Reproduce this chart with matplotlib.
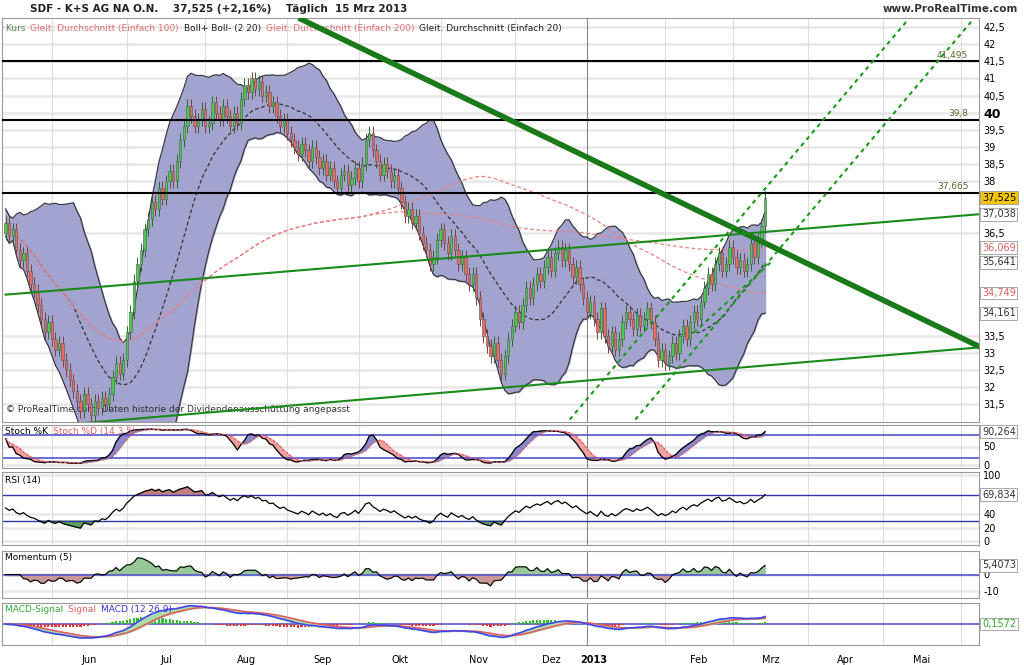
import numpy as np
import pandas as pd
import matplotlib
matplotlib.use("Agg")
import matplotlib.pyplot as plt

closes = [36.8, 36.4, 36.6, 36.0, 35.7, 35.9, 35.4, 35.0, 34.8, 34.4,
          34.0, 33.6, 33.9, 33.4, 33.1, 33.3, 32.8, 32.5, 32.2, 31.9,
          31.6, 31.3, 31.8, 31.5, 31.2, 31.6, 31.4, 31.7, 31.5, 31.8,
          32.3, 32.7, 32.4, 32.8, 33.6, 34.2, 35.1, 35.6, 36.0, 36.6,
          36.9, 37.4, 37.2, 37.8, 37.5, 38.0, 38.3, 38.0, 38.6, 39.2,
          39.6, 40.2, 39.9, 39.6, 39.8, 40.1, 39.6, 39.7, 40.3, 40.0,
          39.8, 40.2, 39.9, 39.6, 40.0, 39.7, 40.4, 40.8, 40.6, 41.0,
          40.7, 40.9, 40.5, 40.6, 40.2, 40.3, 39.9, 39.6, 39.8, 39.4,
          39.2, 39.0, 38.8, 39.1, 38.9, 38.6, 39.0, 38.7, 38.4, 38.6,
          38.2, 38.4, 38.0, 37.8, 38.2, 38.3, 37.9, 38.1, 38.4, 38.0,
          38.5, 39.2, 39.4, 38.9, 38.6, 38.2, 38.5, 38.3, 38.0, 38.2,
          37.8, 37.4, 37.0, 37.2, 36.8, 37.0, 36.5, 36.2, 36.0, 35.6,
          35.8, 36.3, 36.6, 36.2, 35.9, 36.4, 36.0, 35.6, 35.8, 35.3,
          35.0, 35.3, 34.6, 34.0, 33.5, 33.2, 32.9, 33.3, 32.8, 32.4,
          32.9, 33.4, 33.8, 34.2, 33.9, 34.4, 34.9, 34.6, 35.0, 35.3,
          35.1, 35.5, 35.8, 35.4, 35.9, 36.1, 35.7, 36.0, 35.6, 35.2,
          35.5, 35.0, 34.6, 34.2, 34.5, 34.0, 33.6, 34.3, 33.5, 33.2,
          33.6, 33.1, 33.4, 33.9, 34.2, 34.0, 33.7, 34.1, 33.8, 34.0,
          34.3, 33.9, 33.4, 32.8, 33.1, 32.7, 32.9, 33.3, 33.0, 33.5,
          33.8, 33.4, 33.9, 34.2, 34.0, 34.5, 34.9, 35.3, 35.0, 35.6,
          35.9, 35.4, 35.6, 36.1, 35.8, 35.5, 35.7, 35.4, 35.6, 36.2,
          35.8, 36.3, 36.7, 37.525]
first_open = 36.5
month_labels = ["Jun", "Jul", "Aug", "Sep", "Okt", "Nov", "Dez", "2013", "Feb", "Mrz", "Apr", "Mai", "Jun"]
month_starts = [13, 34, 56, 79, 99, 122, 143, 163, 185, 204, 225, 246, 268, 290]
hlines = [41.495, 39.8, 37.665]
thick_line = [(82.2, 42.76), (285.2, 32.58)]
upper_line = [(0, 34.70), (272.7, 37.04)]
lower_line = [(20.9, 30.95), (272.7, 33.16)]
dashed_lines = [[(158.2, 31.06), (252.6, 42.65)], [(176.6, 31.06), (270.8, 42.65)], [(193.0, 33.59), (214.5, 35.63)]]

c = pd.Series(closes)
n = len(c)
x = np.arange(n)
o = c.shift(1).fillna(first_open)
wick = 0.2
hi = np.maximum(o, c) + wick
lo = np.minimum(o, c) - wick

sma20 = c.rolling(20, min_periods=1).mean()
sd20 = c.rolling(20, min_periods=2).std(ddof=0).bfill()
bup, bdn = sma20 + 2 * sd20, sma20 - 2 * sd20
sma100 = c.rolling(100, min_periods=1).mean()
sma200 = c.rolling(200, min_periods=1).mean()
hh = pd.Series(hi).rolling(14, min_periods=1).max()
ll = pd.Series(lo).rolling(14, min_periods=1).min()
rawk = 100 * (c - ll) / (hh - ll)
K = rawk.rolling(3, min_periods=1).mean()
D = K.rolling(5, min_periods=1).mean()
d = c.diff().fillna(0).values
au, ad = 0.2, 0.2
rsi_vals = []
for dv in d:
    au = (au * 13 + max(dv, 0)) / 14
    ad = (ad * 13 + max(-dv, 0)) / 14
    rsi_vals.append(100 - 100 / (1 + au / ad))
rsi = pd.Series(rsi_vals)
mom = (100 * (c / c.shift(5) - 1)).fillna(0)
macd = c.ewm(span=12, adjust=False).mean() - c.ewm(span=26, adjust=False).mean()
sig = macd.ewm(span=9, adjust=False).mean()
hist = macd - sig

W, H = 1024, 665
fig = plt.figure(figsize=(W/100, H/100), dpi=100)
fig.patch.set_facecolor("white")
def ax_at(top, bottom, left=2, right=979):
    return fig.add_axes([left/W, 1-bottom/H, (right-left)/W, (bottom-top)/H])

XMAX = 273
def style(ax, ticks, labels=None):
    ax.set_xlim(-1, XMAX)
    ax.yaxis.tick_right()
    ax.set_yticks(ticks)
    ax.set_yticklabels(labels if labels else [("%g" % t).replace(".", ",") for t in ticks], fontsize=7)
    ax.tick_params(axis="y", length=0, pad=3)
    ax.set_xticks([])
    ax.grid(False)
    for t in ticks:
        ax.axhline(t, color="#e8e8e8", lw=1.8, zorder=0)
    for i, m in enumerate(month_starts[:-1]):
        ax.axvline(m, color="#888888" if month_labels[i] == "2013" else "#dddddd", lw=0.8, zorder=0)
    for s in ax.spines.values():
        s.set_color("#999999")

def box(ax, v, t, fc="white", tc="#333333"):
    ax.text(1.003, v, t, transform=ax.get_yaxis_transform(), fontsize=7, color=tc, va="center", ha="left",
            bbox=dict(boxstyle="square,pad=0.15", fc=fc, ec="#999999", lw=0.6), zorder=10, clip_on=False)

# main
ax = ax_at(18, 422)
ylab = [(37.525, "37,525", "#f5c400", "black"), (37.038, "37,038", "white", "#333333"),
        (sma100.iloc[-1], f"{sma100.iloc[-1]:.3f}".replace(".", ","), "white", "#e06060"),
        (sma20.iloc[-1], f"{sma20.iloc[-1]:.3f}".replace(".", ","), "white", "#333333"),
        (sma200.iloc[-1], f"{sma200.iloc[-1]:.3f}".replace(".", ","), "white", "#e06060"),
        (bdn.iloc[-1], f"{bdn.iloc[-1]:.3f}".replace(".", ","), "white", "#333333")]
pticks = [t for t in np.arange(31.5, 42.6, 0.5) if all(abs(t - v[0]) > 0.3 for v in ylab)]
ax.set_ylim(30.99, 42.76)
style(ax, pticks)
for lab in ax.get_yticklabels():
    if lab.get_text() in ("35", "40"):
        lab.set_fontweight("bold"); lab.set_fontsize(9)
ax.fill_between(x, bdn, bup, color="#a3a3cf", zorder=1)
ax.plot(x, bup, color="#333333", lw=0.8, zorder=2)
ax.plot(x, bdn, color="#333333", lw=0.8, zorder=2)
ax.plot(x, sma20, color="#333333", lw=0.9, ls=(0, (3, 2)), zorder=2)
ax.plot(x, sma100, color="#e88080", lw=0.9, ls=(0, (3, 2)), zorder=2)
ax.plot(x, sma200, color="#e88080", lw=0.9, ls=(0, (3, 2)), zorder=2)
for i in range(n):
    bull = c[i] >= o[i]
    ax.vlines(i, lo[i], hi[i], color="#2a6a2a" if bull else "#8a3a3a", lw=0.7, zorder=3)
    ax.bar(i, max(abs(c[i]-o[i]), 0.04), bottom=min(c[i], o[i]), width=0.65,
           color="#44cc44" if bull else "#e86a5a", edgecolor="#555555", lw=0.4, zorder=4)
for h in hlines:
    ax.axhline(h, color="black", lw=1.5, zorder=5)
    ax.text(270, h+0.05, ("%g" % h).replace(".", ","), fontsize=6.5, color="#556b2f", ha="right", va="bottom")
ax.plot(*zip(*thick_line), color="#1a7a1a", lw=4, zorder=6, solid_capstyle="butt")
ax.plot(*zip(*upper_line), color="#1a8a1a", lw=1.5, zorder=6)
ax.plot(*zip(*lower_line), color="#1a8a1a", lw=1.5, zorder=6)
for dl in dashed_lines:
    ax.plot(*zip(*dl), color="#1a9a1a", lw=1.5, ls=(0, (2, 2)), zorder=6)
legend_parts = [("Kurs ", "#558855"), ("Gleit. Durchschnitt (Einfach 100) ", "#e07070"), ("Boll+ Boll- (2 20) ", "#222222"),
                ("Gleit. Durchschnitt (Einfach 200) ", "#e07070"), ("Gleit. Durchschnitt (Einfach 20)", "#222222")]
xx = 0.004
fig.canvas.draw()
for t, col in legend_parts:
    tt = ax.text(xx, 0.985, t, transform=ax.transAxes, fontsize=6.5, color=col, va="top")
    bb = tt.get_window_extent(renderer=fig.canvas.get_renderer()).transformed(ax.transAxes.inverted())
    xx = bb.x1 + 0.002
ax.text(0.004, 0.02, "© ProRealTime.com  Daten historie der Dividendenausschüttung angepasst", transform=ax.transAxes,
        fontsize=6.5, color="#333333", va="bottom")
for v, t, fc, tc in ylab:
    box(ax, v, t, fc, tc)

fig.text(30/W, 1-9/H, "SDF - K+S AG NA O.N.    37,525 (+2,16%)    Täglich  15 Mrz 2013", fontsize=7.5,
         fontweight="bold", va="center", color="#222222")
fig.text(1018/W, 1-9/H, "www.ProRealTime.com", fontsize=7.5, fontweight="bold", ha="right", va="center", color="#333333")

# stoch
a1 = ax_at(425, 468)
a1.set_ylim(-8, 108)
style(a1, [0, 50])
a1.axhline(80, color="#5555cc", lw=1.2); a1.axhline(20, color="#5555cc", lw=1.2)
a1.fill_between(x, K, D, where=K >= D, color="#8888cc", interpolate=True)
a1.fill_between(x, K, D, where=K < D, color="#f0a0a0", interpolate=True)
a1.plot(x, K, color="black", lw=0.9)
a1.plot(x, D, color="#e06060", lw=0.9, ls=(0, (2, 1.5)))
t1 = a1.text(0.003, 0.95, "Stoch %K ", transform=a1.transAxes, fontsize=6.5, va="top")
bb = t1.get_window_extent(renderer=fig.canvas.get_renderer()).transformed(a1.transAxes.inverted())
a1.text(bb.x1 + 0.002, 0.95, "Stoch %D (14 3 5)", transform=a1.transAxes, fontsize=6.5, va="top", color="#e06060")
box(a1, K.iloc[-1], f"{K.iloc[-1]:.3f}".replace(".", ","))

# RSI
a2 = ax_at(472, 545)
a2.set_ylim(-6, 104)
style(a2, [0, 20, 40, 100])
a2.axhline(70, color="#3333aa", lw=1); a2.axhline(30, color="#3333aa", lw=1)
a2.fill_between(x, rsi, 70, where=rsi > 70, color="#c08080", interpolate=True)
a2.fill_between(x, rsi, 30, where=rsi < 30, color="#60a060", interpolate=True)
a2.plot(x, rsi, color="black", lw=0.9)
a2.text(0.003, 0.95, "RSI (14)", transform=a2.transAxes, fontsize=6.5, va="top")
box(a2, rsi.iloc[-1], f"{rsi.iloc[-1]:.3f}".replace(".", ","))

# Momentum
a3 = ax_at(551, 598)
a3.set_ylim(-14, 14)
style(a3, [-10, 0])
a3.axhline(0, color="#5555cc", lw=1.2)
a3.fill_between(x, mom, 0, where=mom >= 0, color="#98c898", interpolate=True)
a3.fill_between(x, mom, 0, where=mom < 0, color="#c89898", interpolate=True)
a3.plot(x, mom, color="black", lw=0.8)
a3.text(0.003, 0.95, "Momentum (5)", transform=a3.transAxes, fontsize=6.5, va="top")
box(a3, mom.iloc[-1], f"{mom.iloc[-1]:.4f}".replace(".", ","))

# MACD
a4 = ax_at(603, 645)
mm = max(abs(macd).max(), abs(sig).max()) * 1.15
a4.set_ylim(-mm, mm)
style(a4, [])
a4.axhline(0, color="#5555cc", lw=1.2)
a4.bar(x, hist, width=0.6, color=np.where(hist >= 0, "#33bb33", "#dd3333"), zorder=2)
a4.fill_between(x, macd, sig, color="#aaddaa", zorder=2)
a4.plot(x, sig, color="#e06060", lw=1.2, zorder=3)
a4.plot(x, macd, color="#4444ee", lw=1.2, zorder=3)
xx = 0.003
for t, col in [("MACD-Signal ", "#33aa33"), ("Signal ", "#e06060"), ("MACD (12 26 9)", "#3333cc")]:
    tt = a4.text(xx, 0.95, t, transform=a4.transAxes, fontsize=6.5, va="top", color=col)
    bb = tt.get_window_extent(renderer=fig.canvas.get_renderer()).transformed(a4.transAxes.inverted())
    xx = bb.x1 + 0.002
box(a4, 0, "0,1572", tc="#33aa33")
for i, lab in enumerate(month_labels):
    mid = (month_starts[i] + month_starts[i+1]) / 2 if lab != "2013" else month_starts[i] + 2
    if mid < XMAX:
        a4.text(mid, -0.35, lab, transform=a4.get_xaxis_transform(), fontsize=7, ha="center", va="center",
                fontweight="bold" if lab == "2013" else "normal")

fig.savefig("out.png", dpi=100)
